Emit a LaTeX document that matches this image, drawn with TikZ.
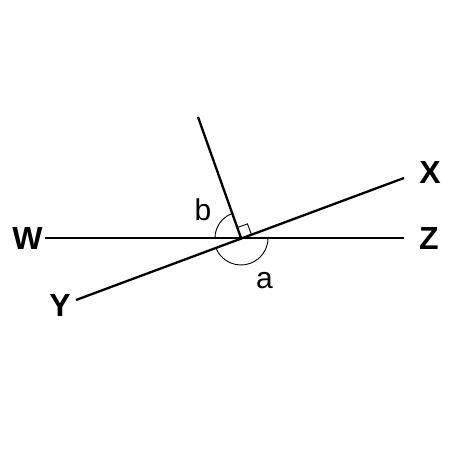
\documentclass[tikz,border=0pt]{standalone}
\usepackage{fontspec}
\setmainfont{Liberation Sans}
\usetikzlibrary{calc}
\begin{document}
\begin{tikzpicture}[x=1pt,y=1pt,
  mainline/.style={line width=2.3pt},
  thin/.style={line width=0.9pt},
  biglabel/.style={inner sep=0pt,font=\fontsize{32}{32}\selectfont\bfseries},
  smalllabel/.style={inner sep=0pt,font=\fontsize{30}{30}\selectfont}]
\useasboundingbox (0,0) rectangle (450,450);
\coordinate (O) at (241,212);
\coordinate (Wend) at (45,212);
\coordinate (Zend) at (404,212);
\coordinate (Xend) at (404,272);
\coordinate (Yend) at (76,150);
\coordinate (Pend) at (198,333);
\node[biglabel] (W) at (27.5,212) {W};
\node[biglabel] (Z) at (429,212) {Z};
\node[biglabel] (X) at (430,278) {X};
\node[biglabel] (Y) at (60,145) {Y};
\node[smalllabel] (b) at (203,240) {b};
\node[smalllabel] (a) at (264.5,169) {a};
\draw[mainline] (Wend) -- (Zend);
\draw[mainline] (Yend) -- (Xend);
\draw[mainline] (Pend) -- (O);
\draw[thin] ($(O)+(180:26)$) arc[start angle=180,end angle=110.4,radius=26];
\draw[thin] ($(O)+(200.4:27)$) arc[start angle=200.4,end angle=360,radius=27];
\draw[thin] ($(O)+(20.4:11)$) -- ++(110.4:11) -- ($(O)+(110.4:11)$);
\end{tikzpicture}
\end{document}
